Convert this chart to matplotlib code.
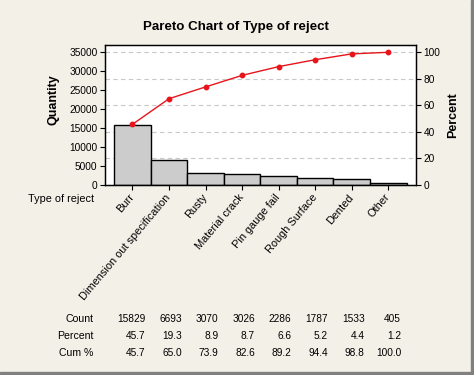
import numpy as np
import matplotlib
matplotlib.use("Agg")
import matplotlib.pyplot as plt
from matplotlib.patches import Rectangle
import matplotlib.transforms as mtransforms

plt.rcParams['font.family'] = ['Liberation Sans', 'DejaVu Sans']

# data
categories = ["Burr", "Dimension out specification", "Rusty", "Material crack",
              "Pin gauge fail", "Rough Surface", "Dented", "Other"]
counts = [15829, 6693, 3070, 3026, 2286, 1787, 1533, 405]
percents = [45.7, 19.3, 8.9, 8.7, 6.6, 5.2, 4.4, 1.2]
cum_pct = [45.7, 65.0, 73.9, 82.6, 89.2, 94.4, 98.8, 100.0]
left_ticks = [0, 5000, 10000, 15000, 20000, 25000, 30000, 35000]
right_ticks = [0, 20, 40, 60, 80, 100]

bg = '#f3f0e7'
fs = 7.3
fig = plt.figure(figsize=(4.74, 3.75), dpi=100, facecolor=bg)
ax = fig.add_axes([0.2215, 0.5067, 0.6555, 0.3733])
ax2 = ax.twinx()

x = np.arange(len(categories))
ax.bar(x, counts, width=1.0, color='#cccccc', edgecolor='black', linewidth=1.0, zorder=2)
ax.set_xlim(-0.75, 7.75)
ax.set_ylim(0, 36925)
ax.set_yticks(left_ticks)
ax.set_xticks(x)
ax.set_xticklabels(categories, rotation=50, ha='right', va='center',
                   rotation_mode='anchor', fontsize=7.9)
ax.tick_params(axis='x', direction='out', length=3.5, width=0.8, pad=4)
ax.tick_params(axis='y', direction='out', length=3.5, width=0.8, labelsize=fs, pad=2)

ax2.set_ylim(0, 105.5)
ax2.set_yticks(right_ticks)
ax2.tick_params(axis='y', direction='out', length=3.5, width=0.8, labelsize=fs, pad=2)
for y in right_ticks[1:]:
    ax.axhline(y / 105.5 * 36925, color='#c8c8c8', linestyle=(0, (4, 3)),
               linewidth=0.8, zorder=1)
ax2.plot(x, cum_pct, color='#e8141b', linewidth=1.0, marker='o',
         markersize=3.2, zorder=3)

for a in (ax, ax2):
    for s in a.spines.values():
        s.set_linewidth(0.9)
ax.set_facecolor('white')

ax.set_ylabel('Quantity', fontsize=9, fontweight='bold')
ax.yaxis.set_label_coords(-0.145, 0.607)
ax2.set_ylabel('Percent', fontsize=9, fontweight='bold')
ax2.yaxis.set_label_coords(1.10, 0.5)

fig.text(0.498, 0.928, 'Pareto Chart of Type of reject', ha='center', va='center',
         fontsize=9.6, fontweight='bold')
fig.text(0.198, 1 - 199 / 375, 'Type of reject', ha='right', va='center', fontsize=7.8)

# table under the chart
trans = mtransforms.blended_transform_factory(ax.transData, fig.transFigure)
rows = [('Count', [str(c) for c in counts], 1 - 319 / 375),
        ('Percent', ['%.1f' % p for p in percents], 1 - 336 / 375),
        ('Cum %', ['%.1f' % p for p in cum_pct], 1 - 353 / 375)]
for label, vals, yy in rows:
    fig.text(0.198, yy, label, ha='right', va='center', fontsize=7.6)
    for i, v in enumerate(vals):
        ax.text(i + 0.35, yy, v, transform=trans, ha='right', va='center', fontsize=fs)

# image frame
fig.patches.append(Rectangle((471 / 474, 0), 3 / 474, 1, transform=fig.transFigure,
                             color='#808080', zorder=0))
fig.patches.append(Rectangle((0, 0), 1, 3 / 375, transform=fig.transFigure,
                             color='#808080', zorder=0))

fig.savefig('out.png', dpi=100, facecolor=bg)
